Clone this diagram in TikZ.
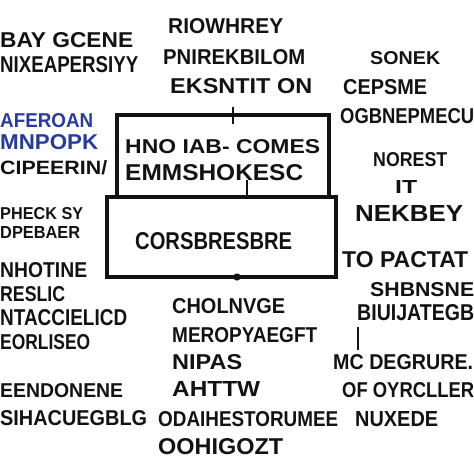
\documentclass[tikz,border=0pt]{standalone}
\usepackage{fontspec}
\setmainfont{Liberation Sans}
\usepackage{graphicx}
\definecolor{ink}{RGB}{18,18,18}
\definecolor{inkblue}{RGB}{38,58,160}
\newcommand{\fitw}[3]{\resizebox{#1pt}{#2pt}{#3}}
\begin{document}
\begin{tikzpicture}[x=1pt,y=-1pt,
  txt/.style={inner sep=0pt, anchor=west, font=\bfseries, text=ink},
  bluetxt/.style={txt, text=inkblue},
  boxst/.style={draw=ink, line width=3.2pt, inner sep=0pt},
  mark line/.style={draw=ink, line width=2.8pt}]
\useasboundingbox (0,0) rectangle (474,474);
\fill[white] (0,0) rectangle (474,474);

% boxes
\node[boxst, minimum width=212pt, minimum height=82pt] (upper) at (223,156) {};
\node[boxst, minimum width=229pt, minimum height=80pt] (lower) at (221.5,237) {};
\coordinate (tickA) at (233,107);
\coordinate (tickB) at (233,124);
\draw[mark line] (tickA) -- (tickB);
\coordinate (dotpt) at (237,277);
\fill[ink] (dotpt) circle (3.6);
\coordinate (sqA) at (247,180);
\coordinate (sqB) at (247,197);
\draw[ink, line width=1.4pt] (sqA) -- (sqB);
\coordinate (sqC) at (358,327);
\coordinate (sqD) at (358,350);
\draw[ink, line width=2.2pt] (sqC) -- (sqD);

% box texts
\node[txt] (b1) at (125,147) {\fitw{195}{14}{HNO IAB- COMES}};
\node[txt] (b2) at (125,173) {\fitw{178}{16}{EMMSHOKESC}};
\node[txt] (b3) at (135,241) {\fitw{157}{17}{CORSBRESBRE}};

% top
\node[txt] (t1) at (0,40) {\fitw{133}{15}{BAY GCENE}};
\node[txt] (t2) at (0,65) {\fitw{138}{16}{NIXEAPERSIYY}};
\node[txt] (t3) at (168,26) {\fitw{115}{15}{RIOWHREY}};
\node[txt] (t4) at (163,57) {\fitw{142}{15}{PNIREKBILOM}};
\node[txt] (t5) at (170,86) {\fitw{142}{15}{EKSNTIT ON}};
\node[txt] (t6) at (370,58) {\fitw{70}{13}{SONEK}};
\node[txt] (t7) at (343,87) {\fitw{84}{15}{CEPSME}};
\node[txt] (t8) at (340,116) {\fitw{134}{15}{OGBNEPMECU}};

% left
\node[bluetxt] (l1) at (0,121) {\fitw{93}{14}{AFEROAN}};
\node[bluetxt] (l2) at (0,142) {\fitw{98}{15}{MNPOPK}};
\node[txt] (l3) at (0,168) {\fitw{107}{14}{CIPEERIN/}};
\node[txt] (l4) at (0,214) {\fitw{83}{12}{PHECK SY}};
\node[txt] (l5) at (0,232) {\fitw{80}{12}{DPEBAER}};
\node[txt] (l6) at (0,270) {\fitw{87}{15}{NHOTINE}};
\node[txt] (l7) at (0,294) {\fitw{65}{15}{RESLIC}};
\node[txt] (l8) at (0,318) {\fitw{127}{16}{NTACCIELICD}};
\node[txt] (l9) at (0,342) {\fitw{90}{15}{EORLISEO}};
\node[txt] (l10) at (0,391) {\fitw{123}{14}{EENDONENE}};
\node[txt] (l11) at (0,418) {\fitw{147}{15}{SIHACUEGBLG}};

% right
\node[txt] (r1) at (373,160) {\fitw{74}{14}{NOREST}};
\node[txt] (r2) at (395,187) {\fitw{22}{13}{IT}};
\node[txt] (r3) at (355,213) {\fitw{108}{16}{NEKBEY}};
\node[txt] (r4) at (342,260) {\fitw{126}{16}{TO PACTAT}};
\node[txt] (r5) at (370,290) {\fitw{104}{14}{SHBNSNE}};
\node[txt] (r6) at (357,313) {\fitw{117}{16}{BIUIJATEGB}};
\node[txt] (r7) at (333,362) {\fitw{140}{15}{MC DEGRURE.}};
\node[txt] (r8) at (342,390) {\fitw{132}{15}{OF OYRCLLER}};

% middle bottom
\node[txt] (m1) at (172,306) {\fitw{113}{15}{CHOLNVGE}};
\node[txt] (m2) at (172,335) {\fitw{145}{15}{MEROPYAEGFT}};
\node[txt] (m3) at (172,362) {\fitw{70}{15}{NIPAS}};
\node[txt] (m4) at (172,389) {\fitw{88}{15}{AHTTW}};
\node[txt] (m5) at (158,419) {\fitw{180}{15}{ODAIHESTORUMEE}};
\node[txt] (m6) at (355,419) {\fitw{83}{15}{NUXEDE}};
\node[txt] (m7) at (158,447) {\fitw{125}{16}{OOHIGOZT}};
\end{tikzpicture}
\end{document}
